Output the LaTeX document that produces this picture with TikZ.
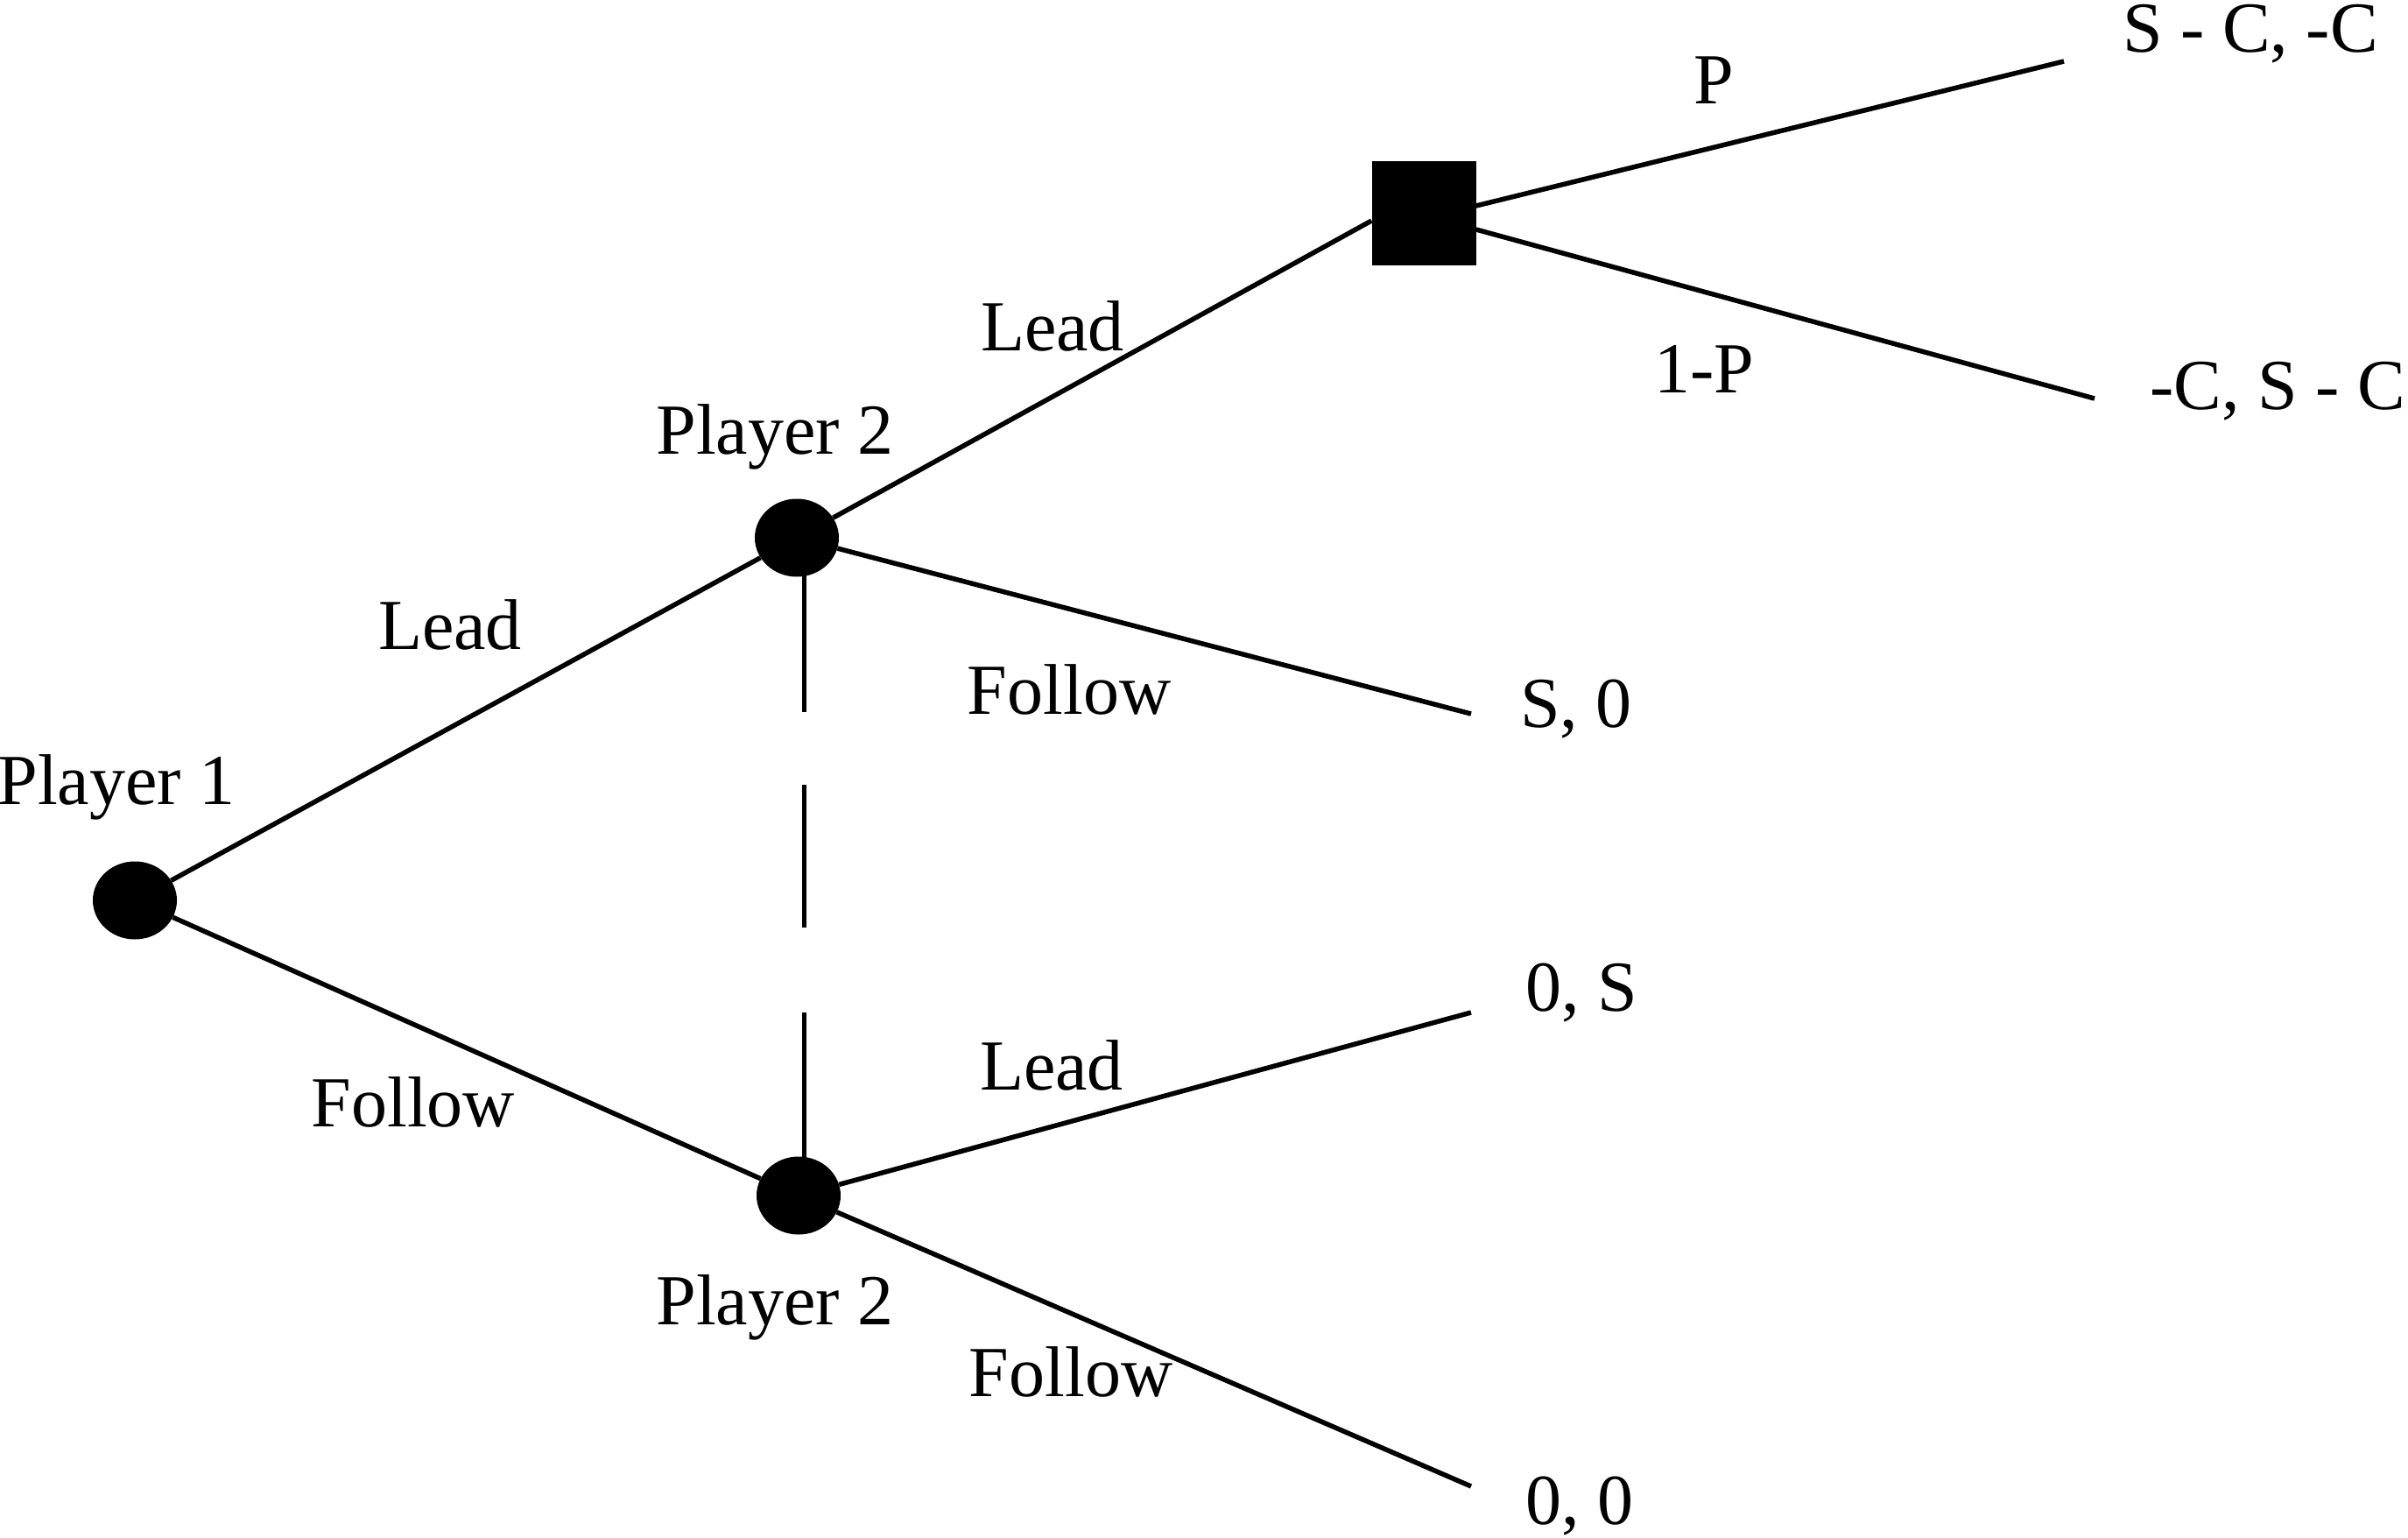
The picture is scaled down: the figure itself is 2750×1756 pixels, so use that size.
\documentclass[tikz,border=0pt]{standalone}
\usepackage{fontspec}
\setmainfont{Liberation Serif}
\usetikzlibrary{shapes.geometric}
\begin{document}
\begin{tikzpicture}[x=1pt,y=-1pt,
  dec/.style={ellipse,fill=black,minimum width=96pt,minimum height=89pt,inner sep=0pt},
  chance/.style={rectangle,fill=black,minimum width=119pt,minimum height=119pt,inner sep=0pt},
  branch/.style={line width=5.5pt},
  infoset/.style={line width=5pt,dash pattern=on 158pt off 83pt on 163pt off 97pt on 170pt},
  lbl/.style={anchor=base,inner sep=0pt,font=\fontsize{82}{98}\selectfont},
  pay/.style={anchor=base west,inner sep=0pt,font=\fontsize{82}{98}\selectfont}]
\useasboundingbox (0,0) rectangle (2750,1756);
% decision and chance nodes
\node[dec] (p1) at (154,1028) {};
\node[dec] (p2t) at (910,614) {};
\node[dec] (p2b) at (912,1365) {};
\node[chance] (sq) at (1626,243) {};
% free ends
\coordinate (eP) at (2357,70);
\coordinate (e1P) at (2392,455);
\coordinate (eS0) at (1680,815);
\coordinate (e0S) at (1680,1156);
\coordinate (e00) at (1680,1697);
\coordinate (dtop) at (918,655);
\coordinate (dbot) at (918,1325);
% branches
\draw[branch] (p1) -- (p2t);
\draw[branch] (p1) -- (p2b);
\draw[branch] (p2t) -- ([yshift=-9pt]sq.west);
\draw[branch] (p2t) -- (eS0);
\draw[branch] (p2b) -- (e0S);
\draw[branch] (p2b) -- (e00);
\draw[branch] ([yshift=8pt]sq.east) -- (eP);
\draw[branch] ([yshift=-19pt]sq.east) -- (e1P);
% information set
\draw[infoset] (dtop) -- (dbot);
% labels
\node[lbl] (lp1) at (133,918) {Player 1};
\node[lbl] (lp2t) at (885,518) {Player 2};
\node[lbl] (lp2b) at (885,1512) {Player 2};
\node[lbl] (l1) at (514,741) {Lead};
\node[lbl] (f1) at (472,1286) {Follow};
\node[lbl] (l2) at (1202,400) {Lead};
\node[lbl] (f2) at (1221,815) {Follow};
\node[lbl] (l3) at (1201,1244) {Lead};
\node[lbl] (f3) at (1223,1594) {Follow};
\node[lbl] (lP) at (1957,118) {P};
\node[lbl] (l1P) at (1946,448) {1-P};
% payoffs
\node[pay] (pSC) at (2424,59) {S - C, -C};
\node[pay] (pCS) at (2455,467) {-C, S - C};
\node[pay] (pS0) at (1736,830) {S, 0};
\node[pay] (p0S) at (1742,1154) {0, S};
\node[pay] (p00) at (1742,1740) {0, 0};
\end{tikzpicture}
\end{document}
